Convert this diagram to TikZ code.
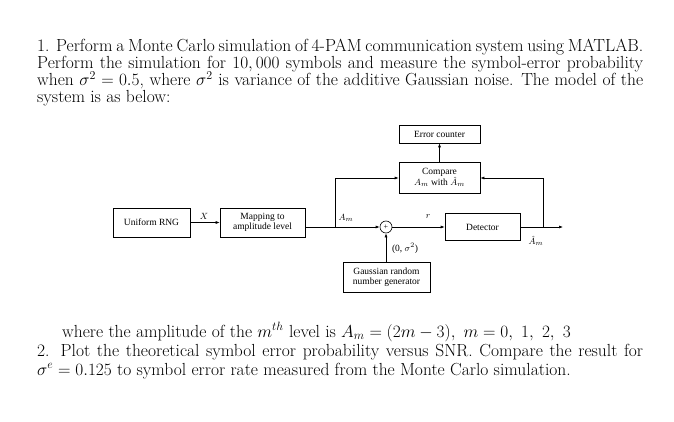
\documentclass[tikz,border=0pt]{standalone}
\usepackage{fontspec}
\usepackage{amsmath}
\newfontfamily\dfont{Liberation Serif}
\usetikzlibrary{arrows.meta}
\begin{document}
\begin{tikzpicture}[x=1pt,y=-1pt,
  blk/.style={draw,line width=0.6pt,font=\dfont\fontsize{9.5}{10}\selectfont,align=center,inner sep=0pt},
  arr/.style={line width=0.6pt,-{Latex[length=4pt,width=3pt]}},
  lab/.style={font=\dfont\fontsize{9.5}{10}\selectfont,inner sep=0pt},
  txt/.style={anchor=base west,inner sep=0pt,font=\fontsize{17.5}{17}\selectfont}]
\useasboundingbox (0,0) rectangle (674,422);
\node[txt] (t1) at (37,52) {\makebox[606pt][s]{1. Perform a Monte Carlo simulation of 4-PAM communication system using MATLAB.}};
\node[txt] (t2) at (37,69) {\makebox[606pt][s]{Perform the simulation for $10,000$ symbols and measure the symbol-error probability}};
\node[txt] (t3) at (37,86) {\makebox[606pt][s]{when $\sigma^2=0.5$, where $\sigma^2$ is variance of the additive Gaussian noise. The model of the}};
\node[txt] (t4) at (37,103) {system is as below:};
\node[txt] (t5) at (62,337) {where the amplitude of the $m^{th}$ level is $A_m=(2m-3),\ m=0,\ 1,\ 2,\ 3$};
\node[txt] (t6) at (37,356) {\makebox[606pt][s]{2. Plot the theoretical symbol error probability versus SNR. Compare the result for}};
\node[txt] (t7) at (37,375) {$\sigma^e=0.125$ to symbol error rate measured from the Monte Carlo simulation.};

\node[blk,minimum width=77pt,minimum height=29pt] (rng) at (151.5,222.5) {Uniform RNG};
\node[blk,minimum width=85pt,minimum height=29pt] (map) at (262.5,222.5) {Mapping to\\amplitude level};
\node[draw,circle,line width=0.6pt,minimum size=12pt,inner sep=0pt,font=\dfont\fontsize{8}{9}\selectfont] (sum) at (386,227) {+};
\node[blk,minimum width=75pt,minimum height=27pt] (det) at (482.5,227) {Detector};
\node[blk,minimum width=81pt,minimum height=31pt] (cmp) at (439.5,177.5) {Compare\\[-1pt]$A_m$ with $\hat A_m$};
\node[blk,minimum width=81pt,minimum height=18pt] (err) at (439.5,134) {Error counter};
\node[blk,minimum width=87pt,minimum height=30pt] (gau) at (386.5,277) {Gaussian random\\number generator};
\coordinate (j1) at (335,227);
\coordinate (j2) at (543,227);
\coordinate (out) at (563,227);

\draw[arr] (rng.east |- 0,222.5) -- (map.west |- 0,222.5);
\draw[line width=0.6pt] (map.east |- j1) -- (j1);
\draw[arr] (j1) -- (sum.west);
\draw[arr] (j1) |- (cmp.west |- 0,178);
\draw[arr] (sum.east) -- (det.west);
\draw[arr] (det.east) -- (out);
\draw[arr] (j2) |- (cmp.east |- 0,178);
\draw[arr] (gau.north -| sum) -- (sum.south);
\draw[arr] (cmp.north) -- (err.south);

\node[lab] (lx) at (204,216) {$X$};
\node[lab] (la) at (346,218) {$A_m$};
\node[lab] (lr) at (428,217) {$r$};
\node[lab] (ln) at (405,248) {(0, $\sigma^2$)};
\node[lab] (lh) at (536,241) {$\hat A_m$};
\end{tikzpicture}
\end{document}
